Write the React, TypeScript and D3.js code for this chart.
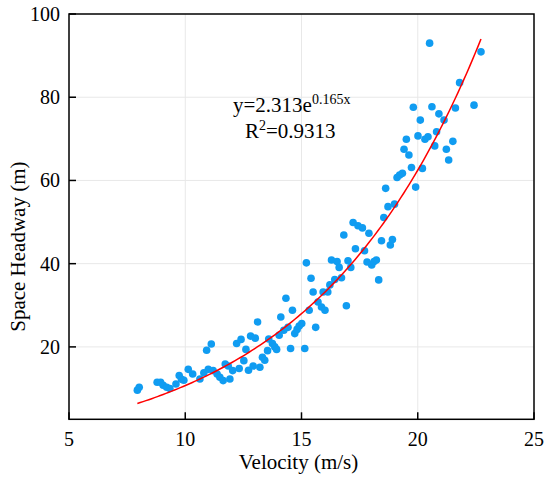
import * as d3 from 'd3';
import React from 'react';

// velocity (m/s) and space headway (m)
const velocity = [
  7.94, 8.02, 8.79, 8.94, 9.05, 9.2, 9.34, 9.6, 9.74, 9.84, 9.94, 10.13, 10.32, 10.63, 10.8, 10.99,
  11.2, 11.37, 11.49, 11.63, 11.92, 10.92, 11.12, 11.72, 11.85, 12.04, 12.21, 12.4, 12.61, 12.52,
  12.32, 12.72, 12.92, 13.21, 12.81, 13.01, 13.11, 13.32, 13.42, 13.54, 13.59,
  13.75, 13.85, 13.93, 14.33, 14.61, 14.11, 14.42, 14.24, 14.04, 14.53, 15.14, 14.71, 14.81, 14.9,
  15.01, 15.33, 15.61, 15.21, 15.41, 15.5, 15.71, 15.86, 16.01, 15.93, 16.13, 16.22, 16.43, 16.72,
  16.29, 16.53, 16.62, 16.82, 16.93, 17.0, 17.12, 17.32, 17.71, 17.22, 17.43, 17.62, 17.9, 17.82,
  18.02, 18.12, 18.22, 18.32, 18.44, 18.54, 18.82, 18.91,
  20.51, 22.72, 21.8, 22.42, 21.62, 19.81, 20.61, 20.91, 21.13, 20.11, 19.51, 20.01, 20.31, 20.44,
  20.81, 19.41, 19.62, 20.73, 21.23, 21.51, 21.33, 19.73, 20.2, 19.11, 19.22, 19.34, 19.91, 18.62,
  18.72, 19.0,
];
const headway = [
  9.6, 10.3, 11.5, 11.5, 10.8, 10.3, 10.0, 11.1, 13.1, 12.2, 12.0, 14.6, 13.5, 12.3, 13.8, 14.6,
  14.3, 13.5, 12.7, 11.9, 12.3, 19.2, 20.7, 15.9, 15.4, 14.3, 20.8, 21.8, 19.4, 16.7,
  14.8, 14.4, 15.4, 15.1, 22.6, 22.1, 26.0, 17.5, 16.8, 19.1, 21.9,
  20.8, 20.0, 19.4, 31.7, 28.8, 27.2, 24.7, 24.0, 22.8, 19.6, 19.6, 23.2, 24.2, 25.0,
  25.6, 28.8, 24.7, 40.2, 36.5, 33.2, 30.8, 29.6, 28.8, 33.2, 33.2, 34.9, 36.2, 36.6,
  40.9, 40.5, 39.1, 46.9, 29.9, 40.7, 39.1, 43.6, 43.1, 49.9, 49.1, 48.6, 47.3, 40.4,
  39.7, 40.5, 40.9, 36.1, 45.5, 51.1, 44.5, 45.8,
  93.0, 90.9, 83.5, 78.1, 77.4, 77.6, 77.7, 76.0, 74.5, 74.5, 69.9, 70.7, 69.9, 70.5,
  71.7, 67.5, 66.1, 68.3, 67.5, 69.4, 64.9, 63.1, 62.9, 60.7, 61.3, 61.7, 58.4, 58.1,
  53.7, 54.3,
];

const xTicks = [5, 10, 15, 20, 25];
const yTicks = [20, 40, 60, 80, 100];

// red curve as it is drawn in the figure (traced: a*e^(b*x)+c)
const fitCurve = { a: 4.378, b: 0.138, c: -6.7 };

const W = 550;
const H = 481;
const FONT = '"Liberation Serif", "Times New Roman", serif';

const App: React.FC = () => {
  const x = d3.scaleLinear().domain([5, 25]).range([69, 534]);
  const y = d3.scaleLinear().domain([2.6, 100]).range([419.3, 14]);

  const points = velocity.map((v, i) => ({ v, h: headway[i] }));
  const [vMin, vMax] = d3.extent(velocity) as [number, number];
  const curveXs = d3.range(vMin, vMax + 0.001, (vMax - vMin) / 120);
  const line = d3
    .line<number>()
    .x((d) => x(d))
    .y((d) => y(fitCurve.a * Math.exp(fitCurve.b * d) + fitCurve.c));

  const [x0, x1] = x.range();
  const [yb, yt] = y.range();

  return (
    <svg
      width={W}
      height={H}
      style={{ position: 'absolute', left: 0, top: 0, background: '#fff' }}
      fontFamily={FONT}
    >
      {/* grid */}
      {xTicks.slice(1, -1).map((t) => (
        <line key={`gx-${t}`} x1={x(t)} x2={x(t)} y1={yt} y2={yb} stroke="#e8e8e8" strokeWidth={1} />
      ))}
      {yTicks.slice(0, -1).map((t) => (
        <line key={`gy-${t}`} x1={x0} x2={x1} y1={y(t)} y2={y(t)} stroke="#e8e8e8" strokeWidth={1} />
      ))}

      {points.map((d, i) => (
        <circle key={i} cx={x(d.v)} cy={y(d.h)} r={3.8} fill="#109cf1" />
      ))}

      <path d={line(curveXs) ?? ''} fill="none" stroke="#ff0000" strokeWidth={1.5} />

      {/* frame */}
      <rect x={x0} y={yt} width={x1 - x0} height={yb - yt} fill="none" stroke="#000" strokeWidth={1.5} />

      {xTicks.map((t) => (
        <g key={`xt-${t}`} transform={`translate(${x(t)},${yb})`}>
          <line y2={-7} stroke="#000" strokeWidth={1.5} />
          <text y={27} textAnchor="middle" fontSize={20}>
            {t}
          </text>
        </g>
      ))}
      {yTicks.map((t) => (
        <g key={`yt-${t}`} transform={`translate(${x0},${y(t)})`}>
          <line x2={7} stroke="#000" strokeWidth={1.5} />
          <text x={-9} dy="0.35em" textAnchor="end" fontSize={20}>
            {t}
          </text>
        </g>
      ))}

      <text x={(x0 + x1) / 2 - 3} y={469} textAnchor="middle" fontSize={21}>
        Velocity (m/s)
      </text>
      <text transform={`translate(25,${(yt + yb) / 2 + 30}) rotate(-90)`} textAnchor="middle" fontSize={21}>
        Space Headway (m)
      </text>

      <text x={233} y={112} fontSize={21}>
        y=2.313e
        <tspan fontSize={14} dy={-8}>
          0.165x
        </tspan>
      </text>
      <text x={245} y={138} fontSize={21}>
        R
        <tspan fontSize={14} dy={-8}>
          2
        </tspan>
        <tspan dy={8}>=0.9313</tspan>
      </text>
    </svg>
  );
};

export default App;
